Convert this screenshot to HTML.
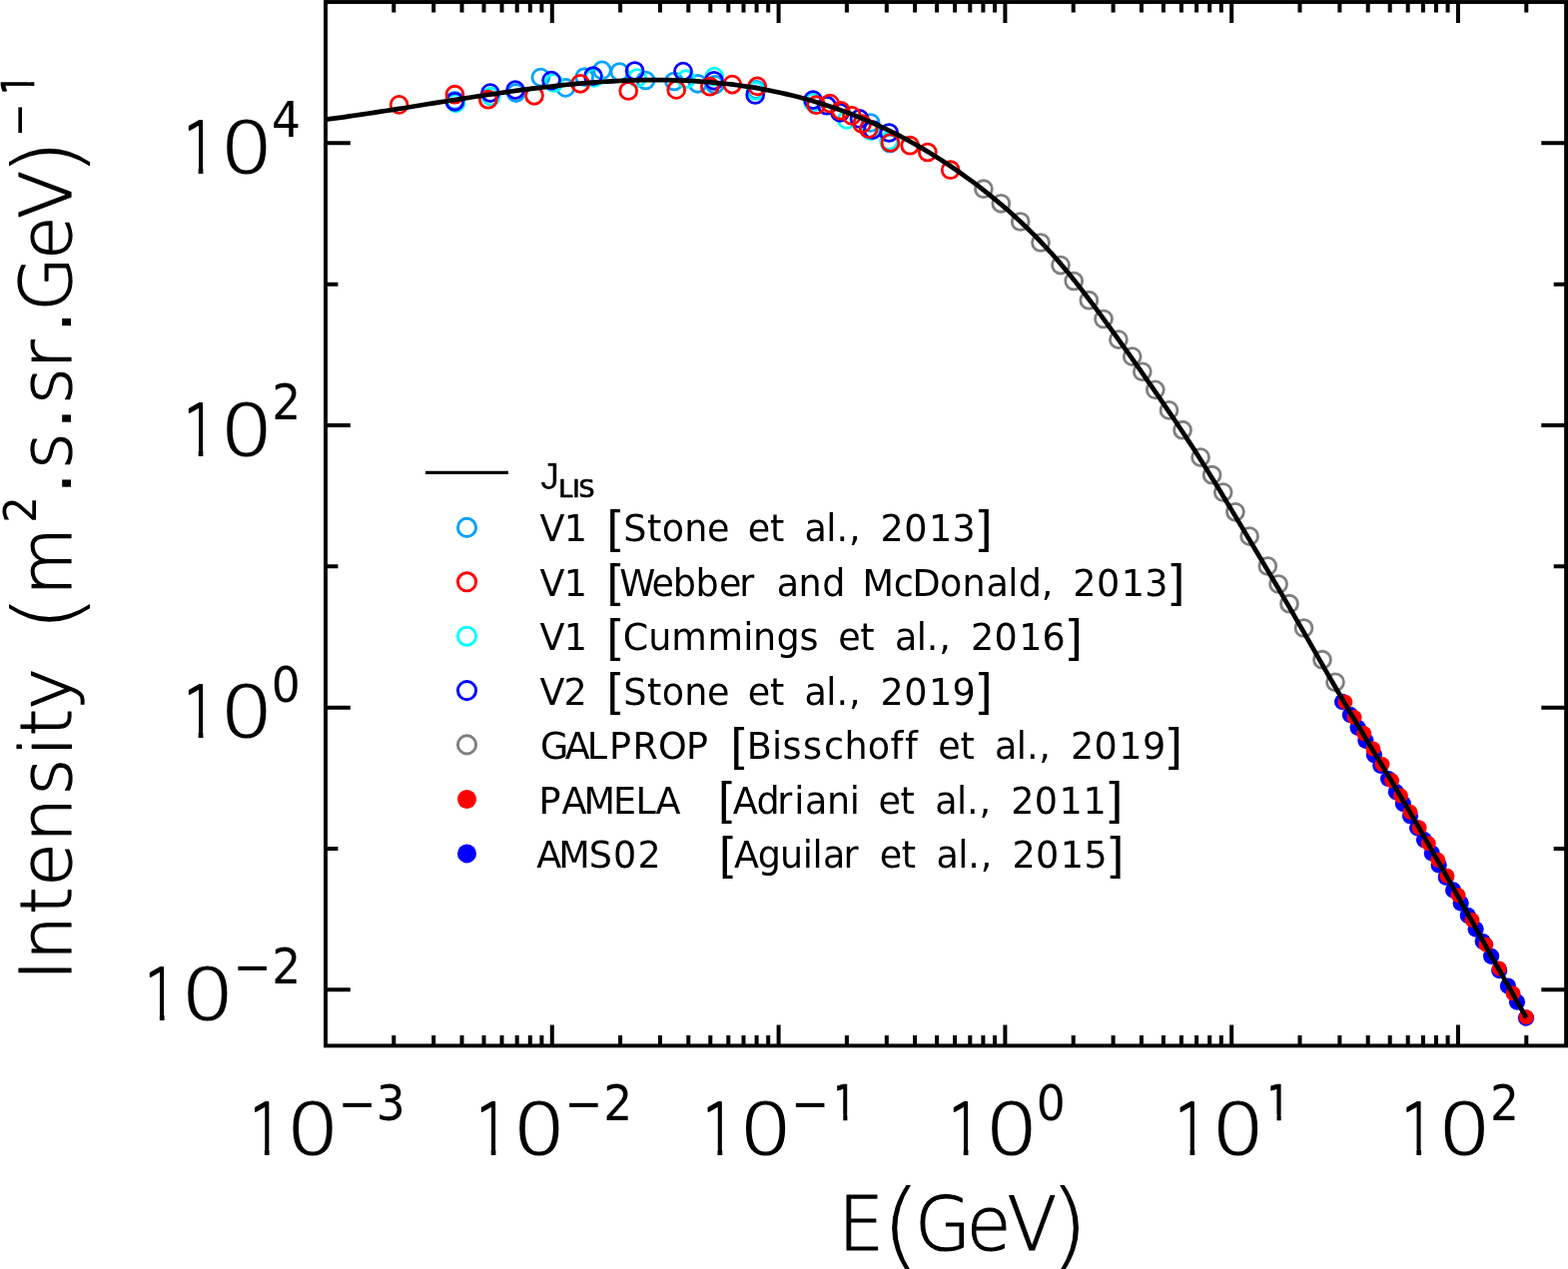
<!DOCTYPE html>
<html><head><meta charset="utf-8"><title>Intensity vs E(GeV)</title>
<style>html,body{margin:0;padding:0;background:#fff}svg{display:block}</style></head>
<body>
<svg width="1570" height="1271" viewBox="0 0 1570 1271">
<rect x="0" y="0" width="1570" height="1271" fill="#ffffff"/>
<g fill="none" stroke="#00a2ff" stroke-width="2.8">
<circle cx="455.4" cy="100.8" r="8.45"/>
<circle cx="516.6" cy="93.1" r="8.45"/>
<circle cx="541.4" cy="77.6" r="8.45"/>
<circle cx="566.3" cy="87.9" r="8.45"/>
<circle cx="585.2" cy="77.2" r="8.45"/>
<circle cx="602.8" cy="70.4" r="8.45"/>
<circle cx="620.4" cy="72.0" r="8.45"/>
<circle cx="646.5" cy="80.5" r="8.45"/>
<circle cx="675.0" cy="81.5" r="8.45"/>
<circle cx="698.6" cy="83.8" r="8.45"/>
<circle cx="715.9" cy="84.8" r="8.45"/>
<circle cx="757.2" cy="89.9" r="8.45"/>
<circle cx="871.7" cy="123.0" r="8.45"/>
<circle cx="891.0" cy="143.5" r="8.45"/>
</g>
<g fill="none" stroke="#00ffff" stroke-width="2.8">
<circle cx="456.4" cy="103.3" r="8.45"/>
<circle cx="491.6" cy="96.7" r="8.45"/>
<circle cx="554.5" cy="83.0" r="8.45"/>
<circle cx="594.8" cy="77.9" r="8.45"/>
<circle cx="638.1" cy="78.0" r="8.45"/>
<circle cx="686.9" cy="79.2" r="8.45"/>
<circle cx="715.2" cy="76.7" r="8.45"/>
<circle cx="756.5" cy="91.0" r="8.45"/>
<circle cx="814.1" cy="102.6" r="8.45"/>
<circle cx="847.8" cy="119.9" r="8.45"/>
<circle cx="871.7" cy="131.1" r="8.45"/>
<circle cx="890.0" cy="140.9" r="8.45"/>
</g>
<g fill="none" stroke="#0000ff" stroke-width="2.8">
<circle cx="455.4" cy="101.8" r="8.45"/>
<circle cx="490.9" cy="93.1" r="8.45"/>
<circle cx="516.0" cy="90.1" r="8.45"/>
<circle cx="552.1" cy="80.6" r="8.45"/>
<circle cx="593.9" cy="76.2" r="8.45"/>
<circle cx="635.6" cy="71.0" r="8.45"/>
<circle cx="684.0" cy="71.6" r="8.45"/>
<circle cx="714.9" cy="80.8" r="8.45"/>
<circle cx="756.2" cy="95.0" r="8.45"/>
<circle cx="814.1" cy="100.1" r="8.45"/>
<circle cx="827.9" cy="105.7" r="8.45"/>
<circle cx="841.1" cy="112.8" r="8.45"/>
<circle cx="860.5" cy="118.9" r="8.45"/>
<circle cx="873.8" cy="130.1" r="8.45"/>
<circle cx="890.2" cy="133.0" r="8.45"/>
</g>
<g fill="none" stroke="#ff0000" stroke-width="2.8">
<circle cx="399.6" cy="104.9" r="8.45"/>
<circle cx="455.4" cy="94.7" r="8.45"/>
<circle cx="488.8" cy="99.7" r="8.45"/>
<circle cx="535.0" cy="95.8" r="8.45"/>
<circle cx="581.1" cy="83.8" r="8.45"/>
<circle cx="629.2" cy="91.0" r="8.45"/>
<circle cx="677.2" cy="89.9" r="8.45"/>
<circle cx="710.8" cy="86.7" r="8.45"/>
<circle cx="733.2" cy="84.6" r="8.45"/>
<circle cx="758.2" cy="86.4" r="8.45"/>
<circle cx="817.2" cy="105.2" r="8.45"/>
<circle cx="831.0" cy="103.6" r="8.45"/>
<circle cx="841.7" cy="110.8" r="8.45"/>
<circle cx="852.9" cy="115.9" r="8.45"/>
<circle cx="863.1" cy="124.0" r="8.45"/>
<circle cx="869.7" cy="129.1" r="8.45"/>
<circle cx="891.5" cy="143.0" r="8.45"/>
<circle cx="911.2" cy="145.7" r="8.45"/>
<circle cx="928.8" cy="152.5" r="8.45"/>
<circle cx="951.7" cy="170.2" r="8.45"/>
</g>
<g fill="none" stroke="#808080" stroke-width="2.8">
<circle cx="984.9" cy="189.2" r="8.45"/>
<circle cx="1002.3" cy="203.8" r="8.45"/>
<circle cx="1021.7" cy="222.0" r="8.45"/>
<circle cx="1042.0" cy="243.0" r="8.45"/>
<circle cx="1062.0" cy="265.6" r="8.45"/>
<circle cx="1075.2" cy="281.5" r="8.45"/>
<circle cx="1090.3" cy="300.7" r="8.45"/>
<circle cx="1105.0" cy="319.5" r="8.45"/>
<circle cx="1119.9" cy="340.1" r="8.45"/>
<circle cx="1133.7" cy="357.1" r="8.45"/>
<circle cx="1143.8" cy="372.3" r="8.45"/>
<circle cx="1156.8" cy="390.4" r="8.45"/>
<circle cx="1170.5" cy="410.9" r="8.45"/>
<circle cx="1184.1" cy="430.7" r="8.45"/>
<circle cx="1202.1" cy="458.1" r="8.45"/>
<circle cx="1213.6" cy="475.7" r="8.45"/>
<circle cx="1224.7" cy="493.1" r="8.45"/>
<circle cx="1236.9" cy="512.8" r="8.45"/>
<circle cx="1251.1" cy="537.1" r="8.45"/>
<circle cx="1269.3" cy="567.0" r="8.45"/>
<circle cx="1280.1" cy="585.0" r="8.45"/>
<circle cx="1291.0" cy="604.7" r="8.45"/>
<circle cx="1305.5" cy="629.0" r="8.45"/>
<circle cx="1324.0" cy="660.7" r="8.45"/>
<circle cx="1337.0" cy="683.3" r="8.45"/>
</g>
<g fill="#0000ff">
<circle cx="1344.1" cy="702.9" r="8.1"/>
<circle cx="1351.9" cy="715.9" r="8.1"/>
<circle cx="1359.6" cy="728.8" r="8.1"/>
<circle cx="1367.4" cy="741.8" r="8.1"/>
<circle cx="1375.9" cy="756.1" r="8.1"/>
<circle cx="1382.3" cy="766.8" r="8.1"/>
<circle cx="1390.1" cy="780.0" r="8.1"/>
<circle cx="1397.9" cy="793.2" r="8.1"/>
<circle cx="1404.9" cy="805.1" r="8.1"/>
<circle cx="1412.0" cy="817.2" r="8.1"/>
<circle cx="1419.1" cy="829.3" r="8.1"/>
<circle cx="1426.0" cy="841.2" r="8.1"/>
<circle cx="1433.8" cy="854.6" r="8.1"/>
<circle cx="1440.7" cy="866.4" r="8.1"/>
<circle cx="1447.8" cy="878.7" r="8.1"/>
<circle cx="1455.1" cy="891.4" r="8.1"/>
<circle cx="1462.7" cy="904.6" r="8.1"/>
<circle cx="1469.8" cy="916.9" r="8.1"/>
<circle cx="1477.6" cy="930.6" r="8.1"/>
<circle cx="1484.7" cy="943.0" r="8.1"/>
<circle cx="1493.1" cy="957.8" r="8.1"/>
<circle cx="1501.2" cy="972.1" r="8.1"/>
<circle cx="1509.9" cy="987.5" r="8.1"/>
<circle cx="1519.0" cy="1003.6" r="8.1"/>
<circle cx="1528.0" cy="1019.6" r="8.1"/>
</g>
<g fill="#ff0000">
<circle cx="1346.9" cy="703.1" r="7.45"/>
<circle cx="1356.1" cy="718.4" r="7.45"/>
<circle cx="1365.7" cy="734.5" r="7.45"/>
<circle cx="1374.9" cy="750.0" r="7.45"/>
<circle cx="1384.0" cy="765.4" r="7.45"/>
<circle cx="1393.6" cy="781.7" r="7.45"/>
<circle cx="1402.5" cy="796.9" r="7.45"/>
<circle cx="1412.0" cy="813.2" r="7.45"/>
<circle cx="1421.2" cy="829.0" r="7.45"/>
<circle cx="1430.3" cy="844.8" r="7.45"/>
<circle cx="1439.8" cy="861.3" r="7.45"/>
<circle cx="1449.0" cy="877.3" r="7.45"/>
<circle cx="1460.0" cy="896.6" r="7.45"/>
<circle cx="1474.0" cy="921.4" r="7.45"/>
<circle cx="1487.9" cy="946.1" r="7.45"/>
<circle cx="1501.2" cy="969.9" r="7.45"/>
<circle cx="1515.1" cy="994.9" r="7.45"/>
<circle cx="1528.3" cy="1018.8" r="7.45"/>
</g>
<path d="M326.0,119.7 L332.0,118.9 L338.0,118.1 L344.0,117.3 L350.0,116.4 L356.0,115.5 L362.0,114.7 L368.0,113.8 L374.0,112.9 L380.0,111.9 L386.0,111.0 L392.0,110.1 L398.0,109.1 L404.0,108.2 L410.0,107.2 L416.0,106.3 L422.0,105.3 L428.0,104.3 L434.0,103.4 L440.0,102.4 L446.0,101.5 L452.0,100.5 L458.0,99.6 L464.0,98.6 L470.0,97.7 L476.0,96.8 L482.0,95.9 L488.0,95.0 L494.0,94.1 L500.0,93.2 L506.0,92.4 L512.0,91.5 L518.0,90.7 L524.0,89.9 L530.0,89.1 L536.0,88.4 L542.0,87.7 L548.0,87.0 L554.0,86.3 L560.0,85.6 L566.0,85.0 L572.0,84.4 L578.0,83.9 L584.0,83.3 L590.0,82.9 L596.0,82.4 L602.0,82.0 L608.0,81.6 L614.0,81.3 L620.0,81.0 L626.0,80.7 L632.0,80.5 L638.0,80.3 L644.0,80.2 L650.0,80.1 L656.0,80.1 L662.0,80.1 L668.0,80.2 L674.0,80.3 L680.0,80.5 L686.0,80.7 L692.0,81.0 L698.0,81.4 L704.0,81.8 L710.0,82.2 L716.0,82.8 L722.0,83.3 L728.0,84.0 L734.0,84.7 L740.0,85.5 L746.0,86.4 L752.0,87.3 L758.0,88.3 L764.0,89.4 L770.0,90.5 L776.0,91.7 L782.0,93.0 L788.0,94.4 L794.0,95.8 L800.0,97.3 L806.0,98.9 L812.0,100.6 L818.0,102.4 L824.0,104.3 L830.0,106.2 L836.0,108.2 L842.0,110.4 L848.0,112.6 L854.0,114.9 L860.0,117.3 L866.0,119.8 L872.0,122.3 L878.0,125.0 L884.0,127.8 L890.0,130.7 L896.0,133.7 L902.0,136.7 L908.0,139.9 L914.0,143.2 L920.0,146.6 L926.0,150.1 L932.0,153.7 L938.0,157.5 L944.0,161.3 L950.0,165.2 L956.0,169.3 L962.0,173.5 L968.0,177.8 L974.0,182.2 L980.0,186.7 L986.0,191.4 L992.0,196.2 L998.0,201.1 L1004.0,206.1 L1010.0,211.3 L1016.0,216.7 L1022.0,222.2 L1028.0,228.0 L1034.0,233.9 L1040.0,240.0 L1046.0,246.3 L1052.0,252.8 L1058.0,259.6 L1064.0,266.6 L1070.0,273.8 L1076.0,281.3 L1082.0,288.9 L1088.0,296.7 L1094.0,304.7 L1100.0,312.7 L1106.0,320.9 L1112.0,329.1 L1118.0,337.4 L1124.0,345.8 L1130.0,354.2 L1136.0,362.7 L1142.0,371.2 L1148.0,379.8 L1154.0,388.4 L1160.0,397.1 L1166.0,405.8 L1172.0,414.6 L1178.0,423.5 L1184.0,432.5 L1190.0,441.6 L1196.0,450.8 L1202.0,460.2 L1208.0,469.7 L1214.0,479.4 L1220.0,489.1 L1226.0,499.0 L1232.0,508.9 L1238.0,518.9 L1244.0,528.9 L1250.0,538.9 L1256.0,549.0 L1262.0,559.0 L1268.0,569.1 L1274.0,579.2 L1280.0,589.3 L1286.0,599.6 L1292.0,609.9 L1298.0,620.3 L1304.0,630.7 L1310.0,641.2 L1316.0,651.7 L1322.0,662.2 L1328.0,672.6 L1334.0,683.0 L1340.0,693.3 L1346.0,703.6 L1352.0,713.7 L1358.0,723.8 L1364.0,733.7 L1370.0,743.7 L1376.0,753.6 L1382.0,763.5 L1388.0,773.5 L1394.0,783.5 L1400.0,793.5 L1406.0,803.7 L1412.0,813.9 L1418.0,824.2 L1424.0,834.6 L1430.0,845.1 L1436.0,855.6 L1442.0,866.1 L1448.0,876.7 L1454.0,887.4 L1460.0,898.1 L1466.0,908.8 L1472.0,919.5 L1478.0,930.2 L1484.0,940.9 L1490.0,951.6 L1496.0,962.3 L1502.0,973.0 L1508.0,983.6 L1514.0,994.2 L1520.0,1004.8 L1526.0,1015.3 L1528.3,1019.3" fill="none" stroke="#000" stroke-width="4.7" stroke-linejoin="round"/>
<path d="M394.3,1047.4v-10.4M394.3,2.0v10.4M434.2,1047.4v-10.4M434.2,2.0v10.4M462.5,1047.4v-10.4M462.5,2.0v10.4M484.5,1047.4v-10.4M484.5,2.0v10.4M502.5,1047.4v-10.4M502.5,2.0v10.4M517.7,1047.4v-10.4M517.7,2.0v10.4M530.8,1047.4v-10.4M530.8,2.0v10.4M542.4,1047.4v-10.4M542.4,2.0v10.4M552.8,1047.4v-20.9M552.8,2.0v20.9M621.1,1047.4v-10.4M621.1,2.0v10.4M661.0,1047.4v-10.4M661.0,2.0v10.4M689.3,1047.4v-10.4M689.3,2.0v10.4M711.3,1047.4v-10.4M711.3,2.0v10.4M729.3,1047.4v-10.4M729.3,2.0v10.4M744.5,1047.4v-10.4M744.5,2.0v10.4M757.6,1047.4v-10.4M757.6,2.0v10.4M769.2,1047.4v-10.4M769.2,2.0v10.4M779.6,1047.4v-20.9M779.6,2.0v20.9M847.9,1047.4v-10.4M847.9,2.0v10.4M887.8,1047.4v-10.4M887.8,2.0v10.4M916.1,1047.4v-10.4M916.1,2.0v10.4M938.1,1047.4v-10.4M938.1,2.0v10.4M956.1,1047.4v-10.4M956.1,2.0v10.4M971.3,1047.4v-10.4M971.3,2.0v10.4M984.4,1047.4v-10.4M984.4,2.0v10.4M996.0,1047.4v-10.4M996.0,2.0v10.4M1006.4,1047.4v-20.9M1006.4,2.0v20.9M1074.7,1047.4v-10.4M1074.7,2.0v10.4M1114.6,1047.4v-10.4M1114.6,2.0v10.4M1142.9,1047.4v-10.4M1142.9,2.0v10.4M1164.9,1047.4v-10.4M1164.9,2.0v10.4M1182.9,1047.4v-10.4M1182.9,2.0v10.4M1198.1,1047.4v-10.4M1198.1,2.0v10.4M1211.2,1047.4v-10.4M1211.2,2.0v10.4M1222.8,1047.4v-10.4M1222.8,2.0v10.4M1233.2,1047.4v-20.9M1233.2,2.0v20.9M1301.5,1047.4v-10.4M1301.5,2.0v10.4M1341.4,1047.4v-10.4M1341.4,2.0v10.4M1369.7,1047.4v-10.4M1369.7,2.0v10.4M1391.7,1047.4v-10.4M1391.7,2.0v10.4M1409.7,1047.4v-10.4M1409.7,2.0v10.4M1424.9,1047.4v-10.4M1424.9,2.0v10.4M1438.0,1047.4v-10.4M1438.0,2.0v10.4M1449.6,1047.4v-10.4M1449.6,2.0v10.4M1460.0,1047.4v-20.9M1460.0,2.0v20.9M1528.3,1047.4v-10.4M1528.3,2.0v10.4M326.0,991.3h24.8M1568.1,991.3h-24.8M326.0,850.0h12.4M1568.1,850.0h-12.4M326.0,708.7h24.8M1568.1,708.7h-24.8M326.0,567.3h12.4M1568.1,567.3h-12.4M326.0,426.0h24.8M1568.1,426.0h-24.8M326.0,284.7h12.4M1568.1,284.7h-12.4M326.0,143.3h24.8M1568.1,143.3h-24.8" fill="none" stroke="#000" stroke-width="4"/>
<rect x="326.0" y="2.0" width="1242.1" height="1045.4" fill="none" stroke="#000" stroke-width="3.9"/>
<g font-family="'DejaVu Sans','Liberation Sans',sans-serif" fill="#000">
<text font-size="71.0" font-weight="200" stroke="#000" stroke-width="1.2" stroke-linejoin="round" xml:space="preserve"><tspan x="250.2" y="1156.0" textLength="32.5" lengthAdjust="spacingAndGlyphs" stroke-width="2.2">1</tspan><tspan x="286.7" y="1156.0" textLength="52.9" lengthAdjust="spacingAndGlyphs">0</tspan><tspan x="338.4" y="1121.8" textLength="38.2" lengthAdjust="spacingAndGlyphs" font-size="49.0" font-weight="400" stroke-width="0">−</tspan><tspan x="376.8" y="1121.8" textLength="29.0" lengthAdjust="spacingAndGlyphs" font-size="49.0" font-weight="400" stroke-width="0">3</tspan></text>
<g fill="#ffffff"><rect x="255.66" y="1150.86" width="9.24" height="7.84"/><rect x="269.60" y="1150.86" width="9.24" height="7.84"/></g>
<text font-size="71.0" font-weight="200" stroke="#000" stroke-width="1.2" stroke-linejoin="round" xml:space="preserve"><tspan x="477.0" y="1156.0" textLength="32.5" lengthAdjust="spacingAndGlyphs" stroke-width="2.2">1</tspan><tspan x="513.5" y="1156.0" textLength="52.9" lengthAdjust="spacingAndGlyphs">0</tspan><tspan x="565.2" y="1121.8" textLength="38.2" lengthAdjust="spacingAndGlyphs" font-size="49.0" font-weight="400" stroke-width="0">−</tspan><tspan x="604.2" y="1121.8" textLength="29.0" lengthAdjust="spacingAndGlyphs" font-size="49.0" font-weight="400" stroke-width="0">2</tspan></text>
<g fill="#ffffff"><rect x="482.46" y="1150.86" width="9.24" height="7.84"/><rect x="496.40" y="1150.86" width="9.24" height="7.84"/></g>
<text font-size="71.0" font-weight="200" stroke="#000" stroke-width="1.2" stroke-linejoin="round" xml:space="preserve"><tspan x="703.8" y="1156.0" textLength="32.5" lengthAdjust="spacingAndGlyphs" stroke-width="2.2">1</tspan><tspan x="740.3" y="1156.0" textLength="52.9" lengthAdjust="spacingAndGlyphs">0</tspan><tspan x="792.0" y="1121.8" textLength="38.2" lengthAdjust="spacingAndGlyphs" font-size="49.0" font-weight="400" stroke-width="0">−</tspan><tspan x="834.6" y="1121.8" textLength="22.4" lengthAdjust="spacingAndGlyphs" font-size="49.0" font-weight="400" stroke-width="0.7">1</tspan></text>
<g fill="#ffffff"><rect x="709.26" y="1150.86" width="9.24" height="7.84"/><rect x="723.20" y="1150.86" width="9.24" height="7.84"/><rect x="837.59" y="1116.18" width="6.68" height="7.57"/><rect x="848.42" y="1116.18" width="6.68" height="7.57"/></g>
<text font-size="71.0" font-weight="200" stroke="#000" stroke-width="1.2" stroke-linejoin="round" xml:space="preserve"><tspan x="950.0" y="1156.0" textLength="32.5" lengthAdjust="spacingAndGlyphs" stroke-width="2.2">1</tspan><tspan x="986.5" y="1156.0" textLength="52.9" lengthAdjust="spacingAndGlyphs">0</tspan><tspan x="1037.8" y="1121.8" textLength="29.0" lengthAdjust="spacingAndGlyphs" font-size="49.0" font-weight="400" stroke-width="0">0</tspan></text>
<g fill="#ffffff"><rect x="955.51" y="1150.86" width="9.24" height="7.84"/><rect x="969.45" y="1150.86" width="9.24" height="7.84"/></g>
<text font-size="71.0" font-weight="200" stroke="#000" stroke-width="1.2" stroke-linejoin="round" xml:space="preserve"><tspan x="1176.8" y="1156.0" textLength="32.5" lengthAdjust="spacingAndGlyphs" stroke-width="2.2">1</tspan><tspan x="1213.3" y="1156.0" textLength="52.9" lengthAdjust="spacingAndGlyphs">0</tspan><tspan x="1268.8" y="1121.8" textLength="22.4" lengthAdjust="spacingAndGlyphs" font-size="49.0" font-weight="400" stroke-width="0.7">1</tspan></text>
<g fill="#ffffff"><rect x="1182.31" y="1150.86" width="9.24" height="7.84"/><rect x="1196.25" y="1150.86" width="9.24" height="7.84"/><rect x="1271.84" y="1116.18" width="6.68" height="7.57"/><rect x="1282.67" y="1116.18" width="6.68" height="7.57"/></g>
<text font-size="71.0" font-weight="200" stroke="#000" stroke-width="1.2" stroke-linejoin="round" xml:space="preserve"><tspan x="1403.6" y="1156.0" textLength="32.5" lengthAdjust="spacingAndGlyphs" stroke-width="2.2">1</tspan><tspan x="1440.1" y="1156.0" textLength="52.9" lengthAdjust="spacingAndGlyphs">0</tspan><tspan x="1492.0" y="1121.8" textLength="29.0" lengthAdjust="spacingAndGlyphs" font-size="49.0" font-weight="400" stroke-width="0">2</tspan></text>
<g fill="#ffffff"><rect x="1409.11" y="1150.86" width="9.24" height="7.84"/><rect x="1423.05" y="1150.86" width="9.24" height="7.84"/></g>
<text font-size="71.0" font-weight="200" stroke="#000" stroke-width="1.2" stroke-linejoin="round" xml:space="preserve"><tspan x="183.9" y="172.9" textLength="32.5" lengthAdjust="spacingAndGlyphs" stroke-width="2.2">1</tspan><tspan x="220.4" y="172.9" textLength="52.9" lengthAdjust="spacingAndGlyphs">0</tspan><tspan x="271.9" y="137.3" textLength="29.0" lengthAdjust="spacingAndGlyphs" font-size="49.0" font-weight="400" stroke-width="0">4</tspan></text>
<g fill="#ffffff"><rect x="189.41" y="167.79" width="9.24" height="7.84"/><rect x="203.35" y="167.79" width="9.24" height="7.84"/></g>
<text font-size="71.0" font-weight="200" stroke="#000" stroke-width="1.2" stroke-linejoin="round" xml:space="preserve"><tspan x="183.9" y="455.6" textLength="32.5" lengthAdjust="spacingAndGlyphs" stroke-width="2.2">1</tspan><tspan x="220.4" y="455.6" textLength="52.9" lengthAdjust="spacingAndGlyphs">0</tspan><tspan x="272.3" y="420.0" textLength="29.0" lengthAdjust="spacingAndGlyphs" font-size="49.0" font-weight="400" stroke-width="0">2</tspan></text>
<g fill="#ffffff"><rect x="189.41" y="450.45" width="9.24" height="7.84"/><rect x="203.35" y="450.45" width="9.24" height="7.84"/></g>
<text font-size="71.0" font-weight="200" stroke="#000" stroke-width="1.2" stroke-linejoin="round" xml:space="preserve"><tspan x="183.9" y="738.3" textLength="32.5" lengthAdjust="spacingAndGlyphs" stroke-width="2.2">1</tspan><tspan x="220.4" y="738.3" textLength="52.9" lengthAdjust="spacingAndGlyphs">0</tspan><tspan x="271.7" y="702.7" textLength="29.0" lengthAdjust="spacingAndGlyphs" font-size="49.0" font-weight="400" stroke-width="0">0</tspan></text>
<g fill="#ffffff"><rect x="189.41" y="733.11" width="9.24" height="7.84"/><rect x="203.35" y="733.11" width="9.24" height="7.84"/></g>
<text font-size="71.0" font-weight="200" stroke="#000" stroke-width="1.2" stroke-linejoin="round" xml:space="preserve"><tspan x="145.1" y="1020.9" textLength="32.5" lengthAdjust="spacingAndGlyphs" stroke-width="2.2">1</tspan><tspan x="181.6" y="1020.9" textLength="52.9" lengthAdjust="spacingAndGlyphs">0</tspan><tspan x="233.4" y="985.3" textLength="38.2" lengthAdjust="spacingAndGlyphs" font-size="49.0" font-weight="400" stroke-width="0">−</tspan><tspan x="272.3" y="985.3" textLength="29.0" lengthAdjust="spacingAndGlyphs" font-size="49.0" font-weight="400" stroke-width="0">2</tspan></text>
<g fill="#ffffff"><rect x="150.61" y="1015.77" width="9.24" height="7.84"/><rect x="164.55" y="1015.77" width="9.24" height="7.84"/></g>
<text font-size="74.8" font-weight="200" stroke="#000" stroke-width="1.2" stroke-linejoin="round" xml:space="preserve"><tspan x="839.2" y="1252.3" textLength="45.8" lengthAdjust="spacingAndGlyphs">E</tspan><tspan x="881.5" y="1260.2" textLength="41.4" lengthAdjust="spacingAndGlyphs" font-size="96.5" stroke-width="0">(</tspan><tspan x="916.0" y="1252.3" textLength="56.2" lengthAdjust="spacingAndGlyphs">G</tspan><tspan x="967.7" y="1252.3" textLength="44.6" lengthAdjust="spacingAndGlyphs">e</tspan><tspan x="1008.6" y="1252.3" textLength="49.6" lengthAdjust="spacingAndGlyphs">V</tspan><tspan x="1049.5" y="1260.2" textLength="41.4" lengthAdjust="spacingAndGlyphs" font-size="96.5" stroke-width="0">)</tspan></text>
<g transform="translate(70.5,981.5) rotate(-90)">
<text font-size="70.6" font-weight="200" stroke="#000" stroke-width="1.2" stroke-linejoin="round" xml:space="preserve"><tspan x="-0.7 19.6 65.6 93.8 137.7 185.1 224.3 243.9 270.7 318.9" y="0.0">Intensity </tspan><tspan x="347.7" y="7.5" textLength="39.1" lengthAdjust="spacingAndGlyphs" font-size="91.1" stroke-width="0">(</tspan><tspan x="384.7" y="0.0">m</tspan><tspan x="457.7" y="-34.7" textLength="26.6" lengthAdjust="spacingAndGlyphs" font-size="45.0" font-weight="400" stroke-width="0">2</tspan><tspan x="486.2" y="0.0" font-weight="400" stroke-width="0">.</tspan><tspan x="511.4" y="0.0">s</tspan><tspan x="551.3" y="0.0" font-weight="400" stroke-width="0">.</tspan><tspan x="576.5 611.9" y="0.0">sr</tspan><tspan x="647.7" y="0.0" font-weight="400" stroke-width="0">.</tspan><tspan x="669.7 721.4 762.6" y="0.0">GeV</tspan><tspan x="804.1" y="7.5" textLength="39.1" lengthAdjust="spacingAndGlyphs" font-size="91.1" stroke-width="0">)</tspan><tspan x="844.3" y="-37.0" textLength="34.3" lengthAdjust="spacingAndGlyphs" font-size="44.0" font-weight="400" stroke-width="0">−</tspan><tspan x="886.8" y="-37.0" textLength="20.2" lengthAdjust="spacingAndGlyphs" font-size="44.0" font-weight="400" stroke-width="0.7">1</tspan></text>
<g fill="#ffffff"><rect x="889.34" y="-42.20" width="6.10" height="7.15"/><rect x="899.24" y="-42.20" width="6.10" height="7.15"/></g>
</g>
<path d="M426,473.4H508.9" stroke="#000" stroke-width="3.2"/>
<circle cx="467.5" cy="528.4" r="9.1" fill="none" stroke="#00a2ff" stroke-width="2.9"/>
<circle cx="467.5" cy="582.8" r="9.1" fill="none" stroke="#ff0000" stroke-width="2.9"/>
<circle cx="467.5" cy="637.2" r="9.1" fill="none" stroke="#00ffff" stroke-width="2.9"/>
<circle cx="467.5" cy="691.6" r="9.1" fill="none" stroke="#0000ff" stroke-width="2.9"/>
<circle cx="467.5" cy="745.9" r="9.1" fill="none" stroke="#808080" stroke-width="2.9"/>
<circle cx="467.5" cy="800.5" r="9.5" fill="#ff0000"/>
<circle cx="467.5" cy="854.9" r="9.5" fill="#0000ff"/>
<text font-size="36.5" font-weight="400" xml:space="preserve"><tspan x="540.4 564.8 591.6" y="542.4">V1 </tspan><tspan x="607.0" y="546.8" font-size="48.0">[</tspan><tspan x="624.2 648.1 662.8 685.2 707.9 733.8 748.8 771.0 789.2 805.5 827.3 837.5 849.9 865.2 881.5 905.2 929.9 953.4" y="542.4">Stone et al., 2013</tspan><tspan x="975.2" y="546.8" font-size="48.0">]</tspan></text>
<text font-size="36.5" font-weight="400" xml:space="preserve"><tspan x="540.4 564.8 591.6" y="596.9">V1 </tspan><tspan x="607.0" y="601.2" font-size="48.0">[</tspan><tspan x="620.3 652.4 673.8 696.6 719.9 740.3 761.5 777.8 799.6 823.3 849.5 863.6 894.8 913.4 941.1 963.5 987.5 1009.3 1019.7 1042.7 1058.0 1074.3 1098.0 1122.7 1146.2" y="596.9">Webber and McDonald, 2013</tspan><tspan x="1168.0" y="601.2" font-size="48.0">]</tspan></text>
<text font-size="36.5" font-weight="400" xml:space="preserve"><tspan x="540.4 564.8 591.6" y="651.3">V1 </tspan><tspan x="607.0" y="655.7" font-size="48.0">[</tspan><tspan x="623.8 649.2 672.3 708.5 744.2 753.9 777.5 800.5 824.2 839.2 861.3 879.6 895.9 917.7 927.8 940.2 955.5 971.9 995.5 1020.2 1043.6" y="651.3">Cummings et al., 2016</tspan><tspan x="1065.6" y="655.7" font-size="48.0">]</tspan></text>
<text font-size="36.5" font-weight="400" xml:space="preserve"><tspan x="540.4 564.6 591.6" y="705.8">V2 </tspan><tspan x="607.0" y="710.1" font-size="48.0">[</tspan><tspan x="624.2 648.1 662.8 685.2 707.9 733.8 748.8 771.0 789.2 805.5 827.3 837.5 849.9 865.2 881.5 905.2 929.9 953.5" y="705.8">Stone et al., 2019</tspan><tspan x="975.2" y="710.1" font-size="48.0">]</tspan></text>
<text font-size="36.5" font-weight="400" xml:space="preserve"><tspan x="541.0 565.7 587.7 610.0 633.5 659.0 687.1 715.7" y="760.2">GALPROP </tspan><tspan x="731.1" y="764.6" font-size="48.0">[</tspan><tspan x="747.7 773.1 783.6 804.1 824.9 845.4 868.8 891.5 905.9 924.2 939.2 961.4 979.6 995.9 1017.7 1027.9 1040.3 1055.6 1071.9 1095.5 1120.3 1143.9" y="760.2">Bisschoff et al., 2019</tspan><tspan x="1165.6" y="764.6" font-size="48.0">]</tspan></text>
<text font-size="36.5" font-weight="400" xml:space="preserve"><tspan x="539.4 562.6 584.6 614.1 636.5 656.6 683.7 703.0" y="814.6">PAMELA  </tspan><tspan x="718.4" y="819.0" font-size="48.0">[</tspan><tspan x="733.7 757.5 778.2 795.3 806.0 827.9 850.7 864.5 879.5 901.6 919.9 936.2 958.0 968.1 980.5 995.8 1012.2 1035.8 1060.5 1084.6" y="814.6">Adriani et al., 2011</tspan><tspan x="1105.9" y="819.0" font-size="48.0">]</tspan></text>
<text font-size="36.5" font-weight="400" xml:space="preserve"><tspan x="537.3 559.3 589.8 614.1 638.6 665.6 684.9 704.2" y="869.1">AMS02   </tspan><tspan x="719.6" y="873.5" font-size="48.0">[</tspan><tspan x="734.9 758.7 781.1 803.7 813.4 824.1 844.5 865.7 880.7 902.8 921.1 937.4 959.2 969.3 981.7 997.0 1013.4 1037.0 1061.7 1085.4" y="869.1">Aguilar et al., 2015</tspan><tspan x="1107.1" y="873.5" font-size="48.0">]</tspan></text>
<text font-size="36.5" font-weight="400" stroke="#000" stroke-width="0" stroke-linejoin="round" xml:space="preserve"><tspan x="541.3" y="489.5" font-size="37.4" font-family="'Liberation Sans',sans-serif">J</tspan><tspan x="559.3 573.3 579.4" y="498.0" font-size="25.2" stroke-width="0.7">LIS</tspan></text>
</g>
</svg>
</body></html>
